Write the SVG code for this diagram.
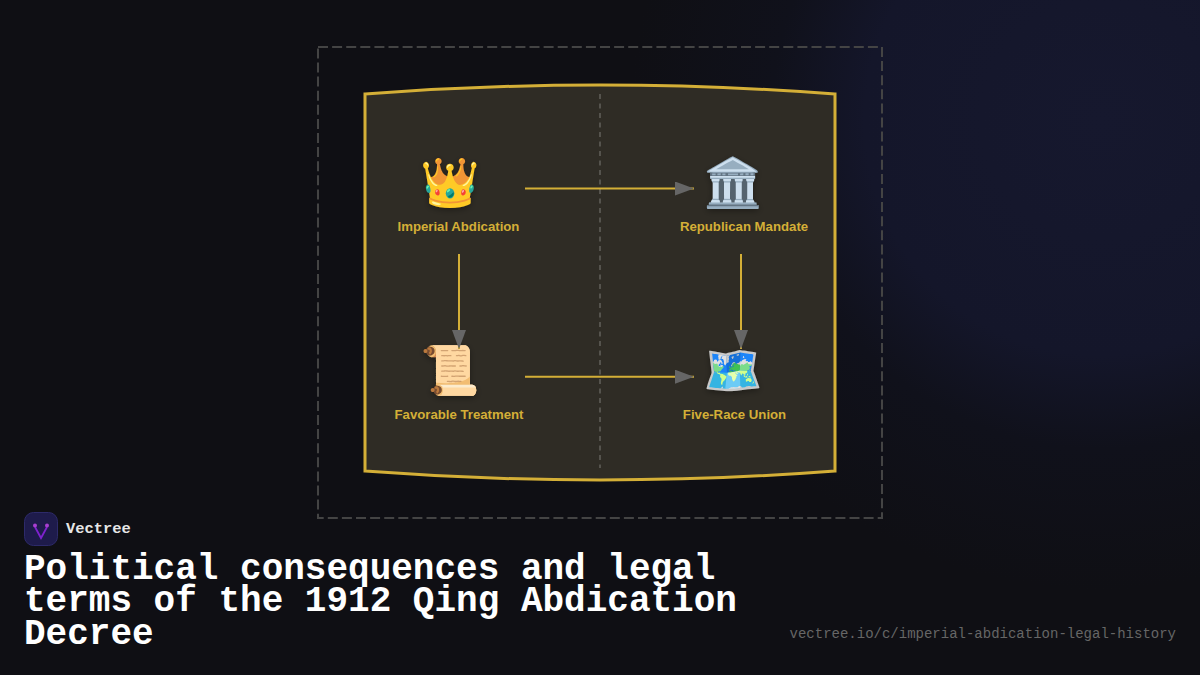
<svg xmlns="http://www.w3.org/2000/svg" width="1200" height="675" viewBox="0 0 1200 675">
<defs>
<radialGradient id="glow" gradientUnits="userSpaceOnUse" cx="1100" cy="120" r="470">
<stop offset="0" stop-color="#16182e"/><stop offset="0.5" stop-color="#14162a"/><stop offset="0.7" stop-color="#10111b"/><stop offset="1" stop-color="#0f0f14"/>
</radialGradient>
<filter id="shadow" x="-30%" y="-30%" width="160%" height="160%"><feDropShadow dx="0" dy="2" stdDeviation="3" flood-color="#000000" flood-opacity="0.35"/></filter>
<marker id="arrow" markerUnits="userSpaceOnUse" markerWidth="20" markerHeight="14" refX="19" refY="7" orient="auto"><path d="M0 0L19 7L0 14Z" fill="#666666"/></marker>
<style>
.lbl{font:bold 13.200px "Liberation Sans",Arial,sans-serif;fill:#d4af37;text-anchor:middle}
.emoji{font-size:48px;font-family:"Noto Color Emoji",sans-serif;text-anchor:middle;filter:url(#shadow)}
.edge{stroke:#d4af37;stroke-width:2;fill:none;marker-end:url(#arrow)}
.title{font:bold 36px "Liberation Mono","Courier New",monospace;fill:#ffffff}
</style>
</defs>
<rect width="1200" height="675" fill="#0f0f14"/>
<rect width="1200" height="675" fill="url(#glow)"/>
<path d="M318 47H882V518H318Z" fill="none" stroke="#444444" stroke-width="2" stroke-dasharray="10 4.100"/>
<path d="M365 94Q600 76 835 94L835 471Q600 489 365 471Z" fill="#2f2c25" stroke="#d4af37" stroke-width="3"/>
<line x1="600" y1="94" x2="600" y2="468" stroke="#55534d" stroke-width="2" stroke-dasharray="5 4.500"/>
<g id="node-imperial"><text class="emoji" x="450.300" y="199">👑</text><text class="lbl" x="458.500" y="231">Imperial Abdication</text></g>
<g id="node-republican"><text class="emoji" x="733.300" y="199">🏛️</text><text class="lbl" x="744" y="231">Republican Mandate</text></g>
<g id="node-treatment"><text class="emoji" x="450.300" y="387">📜</text><text class="lbl" x="459" y="419">Favorable Treatment</text></g>
<g id="node-union"><text class="emoji" x="733.300" y="387">🗺️</text><text class="lbl" x="734.500" y="419">Five-Race Union</text></g>
<g id="connectors">
<path class="edge" d="M525 188.500H694"/>
<path class="edge" d="M459 254V349"/>
<path class="edge" d="M741 254V349"/>
<path class="edge" d="M525 376.700H694"/>
</g>
<g id="brand">
<rect x="24.500" y="512.500" width="33" height="33" rx="9" fill="#1e1b4b" stroke="#2d2a6a"/>
<path d="M35 527L41 538L47 527" fill="none" stroke="#7e22ce" stroke-width="1.800"/>
<circle cx="35" cy="525.500" r="2" fill="#a83fd0"/><circle cx="47" cy="525.500" r="2" fill="#a83fd0"/>
<text x="66" y="533" font-family="Liberation Mono,monospace" font-weight="bold" font-size="15.400" fill="#e6e6e6">Vectree</text>
</g>
<text class="title" x="24" y="579">Political consequences and legal</text>
<text class="title" x="24" y="611">terms of the 1912 Qing Abdication</text>
<text class="title" x="24" y="644">Decree</text>
<text x="1176" y="638" text-anchor="end" font-family="Liberation Mono,monospace" font-size="14" fill="#666666">vectree.io/c/imperial-abdication-legal-history</text>
</svg>
